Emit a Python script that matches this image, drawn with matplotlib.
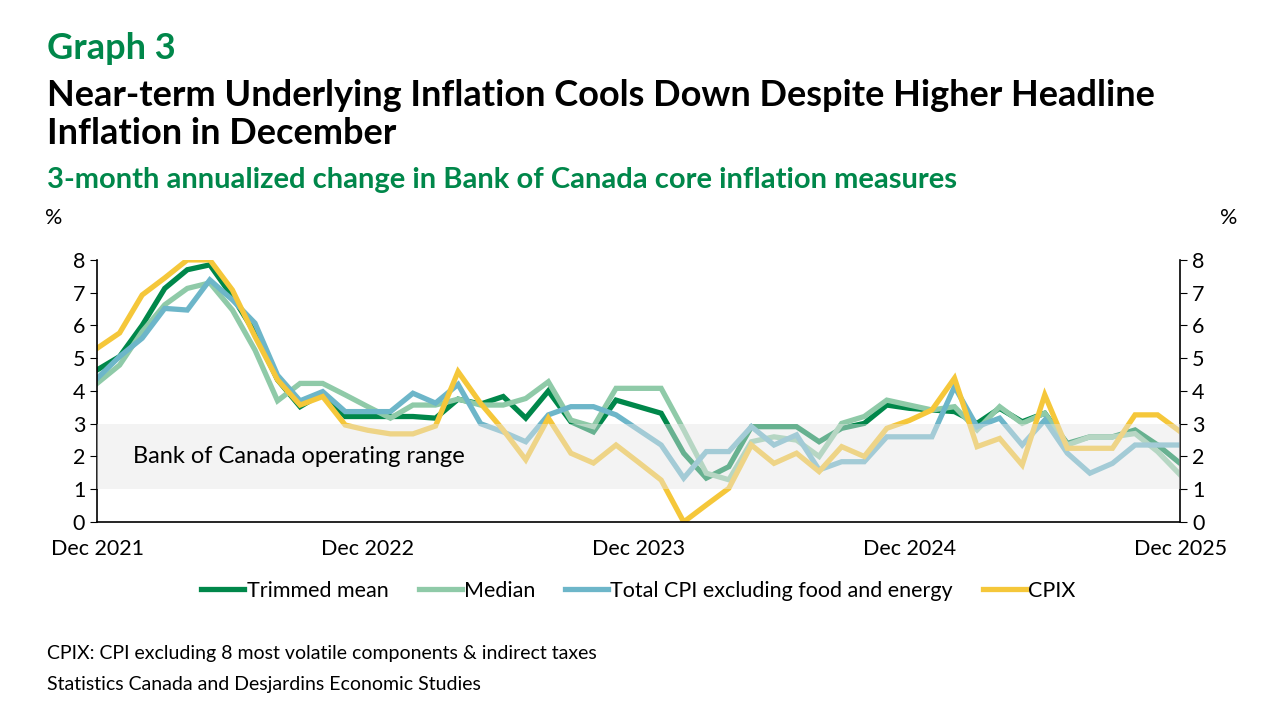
import matplotlib
matplotlib.use("Agg")
import matplotlib.pyplot as plt
import numpy as np

plt.rcParams['font.family'] = ['Lato', 'DejaVu Sans']

x_labels = ["Dec 2021", "Dec 2022", "Dec 2023", "Dec 2024", "Dec 2025"]
trimmed = [4.64, 5.05, 6.0, 7.13, 7.7, 7.85, 6.88, 5.77, 4.34, 3.52, 3.93, 3.22, 3.22, 3.22, 3.22, 3.17,
           3.75, 3.6, 3.83, 3.17, 4.0, 3.06, 2.75, 3.72, 3.52, 3.32, 2.1, 1.34, 1.69, 2.91, 2.91, 2.91,
           2.45, 2.86, 3.01, 3.57, 3.47, 3.42, 3.37, 3.01, 3.47, 3.06, 3.32, 2.4, 2.6, 2.6, 2.81, 2.35, 1.79]
median = [4.23, 4.79, 5.81, 6.63, 7.13, 7.3, 6.47, 5.25, 3.7, 4.23, 4.23, 3.88, 3.52, 3.17, 3.57, 3.57,
          3.75, 3.57, 3.57, 3.77, 4.28, 3.11, 2.91, 4.08, 4.08, 4.08, 2.81, 1.49, 1.29, 2.45, 2.6, 2.5,
          2.0, 3.01, 3.22, 3.72, 3.57, 3.42, 3.52, 2.81, 3.52, 3.01, 3.32, 2.35, 2.6, 2.6, 2.7, 2.15, 1.44]
core_ex = [4.38, 5.05, 5.61, 6.52, 6.47, 7.39, 6.78, 6.07, 4.48, 3.7, 3.98, 3.37, 3.37, 3.37, 3.93, 3.63,
           4.2, 3.0, 2.75, 2.45, 3.27, 3.52, 3.52, 3.27, 2.81, 2.35, 1.34, 2.15, 2.15, 2.91, 2.35, 2.66,
           1.59, 1.84, 1.84, 2.6, 2.6, 2.6, 4.13, 2.91, 3.17, 2.35, 3.11, 2.1, 1.49, 1.79, 2.35, 2.35, 2.35]
cpix = [5.3, 5.77, 6.93, 7.45, 8.0, 8.0, 7.08, 5.66, 4.34, 3.57, 3.83, 2.96, 2.8, 2.69, 2.69, 2.93,
        4.59, 3.62, 2.81, 1.9, 3.17, 2.1, 1.8, 2.35, 1.82, 1.28, 0.0, 0.52, 1.03, 2.35, 1.79, 2.1,
        1.54, 2.3, 2.0, 2.86, 3.1, 3.42, 4.39, 2.3, 2.55, 1.74, 3.88, 2.25, 2.25, 2.25, 3.27, 3.27, 2.76]

fig = plt.figure(figsize=(12.8, 7.2), dpi=100)
ax = fig.add_axes([0.0758, 0.275, 0.8462, 0.364])
x = np.arange(len(trimmed))
series = [("Trimmed mean", trimmed, "#00874a"), ("Median", median, "#8fcaa8"),
          ("Total CPI excluding food and energy", core_ex, "#6db6c9"), ("CPIX", cpix, "#f5c73a")]
for name, vals, c in series:
    ax.plot(x, vals, color=c, lw=3.8, label=name, zorder=2, solid_joinstyle='miter')
ax.axhspan(1, 3, color="#e6e6e6", alpha=0.45, lw=0, zorder=3)
ax.text(1.6, 2, "Bank of Canada operating range", fontsize=17, va="center", zorder=4)
ax.set_xlim(0, 48)
ax.set_ylim(0, 8)
ax.set_xticks([0, 12, 24, 36, 48])
ax.set_xticklabels(x_labels, fontsize=15.5)
ax.tick_params(axis='x', length=0, pad=12)
ax.set_yticks(range(9))
ax.tick_params(axis='y', labelsize=15.5, direction='out', length=5, labelright=True, right=True)
ax.spines["top"].set_visible(False)
for s in ["left", "right", "bottom"]:
    ax.spines[s].set_linewidth(1.2)
fig.text(0.035, 0.697, "%", fontsize=15.5, va="center")
fig.text(0.953, 0.697, "%", fontsize=15.5, va="center")
ax.legend(loc="upper center", bbox_to_anchor=(0.5, -0.15), ncol=4, frameon=False,
          fontsize=15.5, handlelength=2.0, handletextpad=0.1, columnspacing=1.4)
fig.text(0.037, 0.933, "Graph 3", fontsize=26, fontweight="bold", color="#00874a", va="center")
fig.text(0.037, 0.867, "Near-term Underlying Inflation Cools Down Despite Higher Headline", fontsize=26,
         fontweight="bold", va="center")
fig.text(0.037, 0.814, "Inflation in December", fontsize=26, fontweight="bold", va="center")
fig.text(0.037, 0.75, "3-month annualized change in Bank of Canada core inflation measures", fontsize=21,
         fontweight="bold", color="#00874a", va="center")
fig.text(0.037, 0.092, "CPIX: CPI excluding 8 most volatile components & indirect taxes", fontsize=14, va="center")
fig.text(0.037, 0.049, "Statistics Canada and Desjardins Economic Studies", fontsize=14, va="center")
fig.savefig("out.png", dpi=100)
